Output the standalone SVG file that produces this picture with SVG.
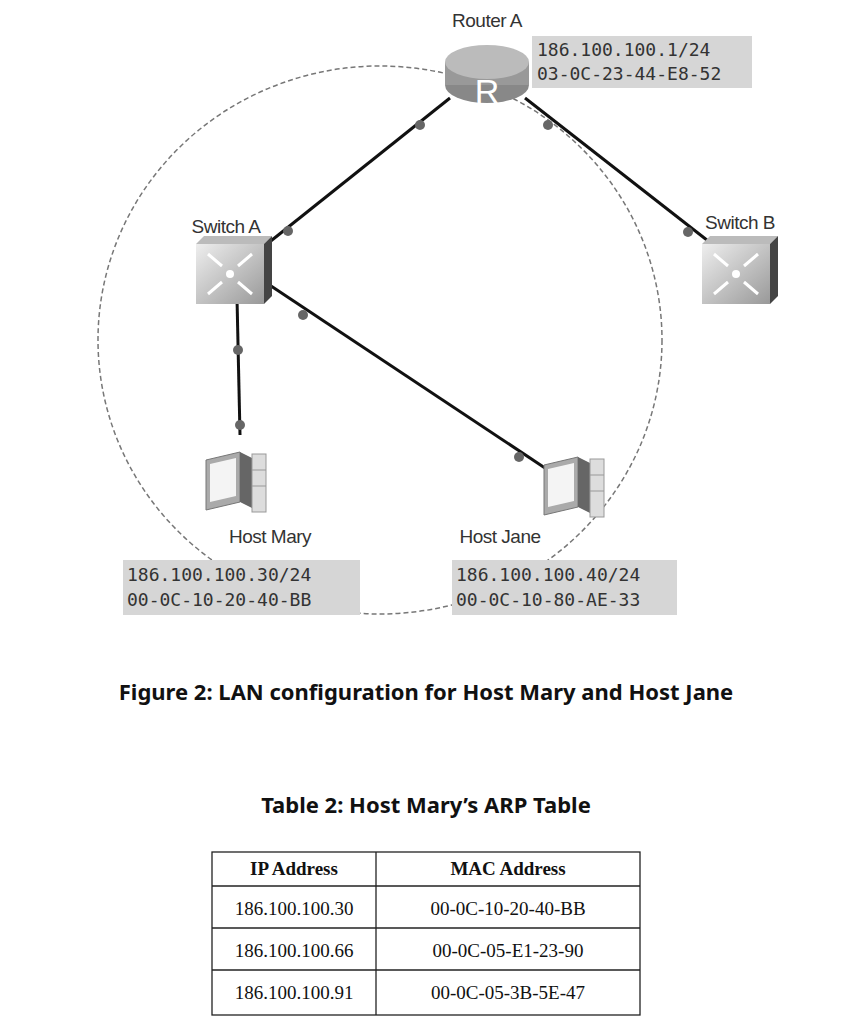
<svg xmlns="http://www.w3.org/2000/svg" width="847" height="1033" viewBox="0 0 847 1033">
<style>
.lbl{font-family:"Liberation Sans",Arial,sans-serif;font-size:19px;fill:#333;letter-spacing:-0.5px}
.mono{font-family:"DejaVu Sans Mono","Liberation Mono",monospace;font-size:18px;fill:#333}
.box{fill:#d6d6d6}
.link{stroke:#111;stroke-width:3;fill:none}
.dot{fill:#666}
.cap{font-family:"Noto Sans","Open Sans",sans-serif;font-weight:bold;font-size:22px;fill:#111}
.td{font-family:"Liberation Serif","Times New Roman",serif;font-size:19px;fill:#111}
.tl{stroke:#222;stroke-width:1.3;fill:none}
</style>
<defs>
<linearGradient id="sw" x1="0" y1="0" x2="1" y2="1"><stop offset="0" stop-color="#eee"/><stop offset="1" stop-color="#999"/></linearGradient>
<g id="host">
<path d="M-34,-20 L0,-28 L0,22 L-34,30 Z" fill="#aaa" stroke="#777"/>
<path d="M-30,-16 L-4,-22 L-4,16 L-30,22 Z" fill="#f4f4f4"/>
<path d="M0,-28 L12,-22 L12,28 L0,22 Z" fill="#666"/>
<rect x="12" y="-26" width="14" height="58" fill="#ddd" stroke="#999"/>
<line x1="12" y1="-10" x2="26" y2="-10" stroke="#999"/><line x1="12" y1="6" x2="26" y2="6" stroke="#999"/>
</g>
<g id="switch">
<path d="M-36,-24 L-28,-32 L40,-32 L32,-24 Z" fill="#bbb"/>
<path d="M32,-24 L40,-32 L40,28 L32,36 Z" fill="#444"/>
<rect x="-36" y="-24" width="68" height="60" fill="url(#sw)"/>
<g stroke="#fff" stroke-width="3" fill="none"><path d="M-24,-14 L-10,-2 M-24,26 L-10,14 M20,-14 L6,-2 M20,26 L6,14"/></g>
<circle cx="-2" cy="6" r="4" fill="#fff"/>
</g>
</defs>
<rect width="847" height="1033" fill="#fff"/>
<ellipse cx="380" cy="340" rx="282" ry="274" fill="none" stroke="#777" stroke-width="1.5" stroke-dasharray="5,3"/>
<g id="connectors">
<line class="link" x1="450" y1="98" x2="262" y2="248"/>
<line class="link" x1="525" y1="98" x2="712" y2="244"/>
<line class="link" x1="237" y1="298" x2="240" y2="435"/>
<line class="link" x1="265" y1="282" x2="545" y2="468"/>
<circle class="dot" cx="420" cy="125" r="5"/><circle class="dot" cx="288" cy="231" r="5"/>
<circle class="dot" cx="548" cy="125" r="5"/><circle class="dot" cx="688" cy="232" r="5"/>
<circle class="dot" cx="238" cy="350" r="5"/><circle class="dot" cx="240" cy="425" r="5"/>
<circle class="dot" cx="303" cy="315" r="5"/><circle class="dot" cx="519" cy="457" r="5"/>
</g>
<g id="routerA">
<ellipse cx="487" cy="85" rx="42" ry="18" fill="#888"/>
<rect x="445" y="62" width="84" height="23" fill="#999"/>
<ellipse cx="487" cy="62" rx="42" ry="17" fill="#bbb"/>
<text x="487" y="103" text-anchor="middle" font-family="Liberation Sans,sans-serif" font-size="34" fill="#fff">R</text>
<text class="lbl" x="487" y="27" text-anchor="middle">Router A</text>
<rect class="box" x="532" y="36" width="220" height="52"/>
<text class="mono" x="537" y="56">186.100.100.1/24</text>
<text class="mono" x="537" y="80">03-0C-23-44-E8-52</text>
</g>
<g id="switchA"><use href="#switch" x="232" y="268"/><text class="lbl" x="226" y="233" text-anchor="middle">Switch A</text></g>
<g id="switchB"><use href="#switch" x="738" y="268"/><text class="lbl" x="740" y="229" text-anchor="middle">Switch B</text></g>
<g id="hostMary"><use href="#host" x="240" y="480"/><text class="lbl" x="270" y="543" text-anchor="middle">Host Mary</text>
<rect class="box" x="123" y="560" width="237" height="55"/>
<text class="mono" x="127" y="581">186.100.100.30/24</text><text class="mono" x="127" y="606">00-0C-10-20-40-BB</text></g>
<g id="hostJane"><use href="#host" x="578" y="485"/><text class="lbl" x="500" y="543" text-anchor="middle">Host Jane</text>
<rect class="box" x="452" y="560" width="225" height="55"/>
<text class="mono" x="456" y="581">186.100.100.40/24</text><text class="mono" x="456" y="606">00-0C-10-80-AE-33</text></g>
<text class="cap" x="426" y="700" text-anchor="middle">Figure 2: LAN configuration for Host Mary and Host Jane</text>
<text class="cap" x="426" y="813" text-anchor="middle">Table 2: Host Mary’s ARP Table</text>
<g id="table">
<rect class="tl" x="212" y="852" width="428" height="163"/>
<line class="tl" x1="376" y1="852" x2="376" y2="1015"/>
<line class="tl" x1="212" y1="886" x2="640" y2="886"/>
<line class="tl" x1="212" y1="928" x2="640" y2="928"/>
<line class="tl" x1="212" y1="970" x2="640" y2="970"/>
<text class="td" x="294" y="875" text-anchor="middle" font-weight="bold">IP Address</text>
<text class="td" x="508" y="875" text-anchor="middle" font-weight="bold">MAC Address</text>
<text class="td" x="294" y="915" text-anchor="middle">186.100.100.30</text>
<text class="td" x="508" y="915" text-anchor="middle">00-0C-10-20-40-BB</text>
<text class="td" x="294" y="957" text-anchor="middle">186.100.100.66</text>
<text class="td" x="508" y="957" text-anchor="middle">00-0C-05-E1-23-90</text>
<text class="td" x="294" y="999" text-anchor="middle">186.100.100.91</text>
<text class="td" x="508" y="999" text-anchor="middle">00-0C-05-3B-5E-47</text>
</g>
</svg>
